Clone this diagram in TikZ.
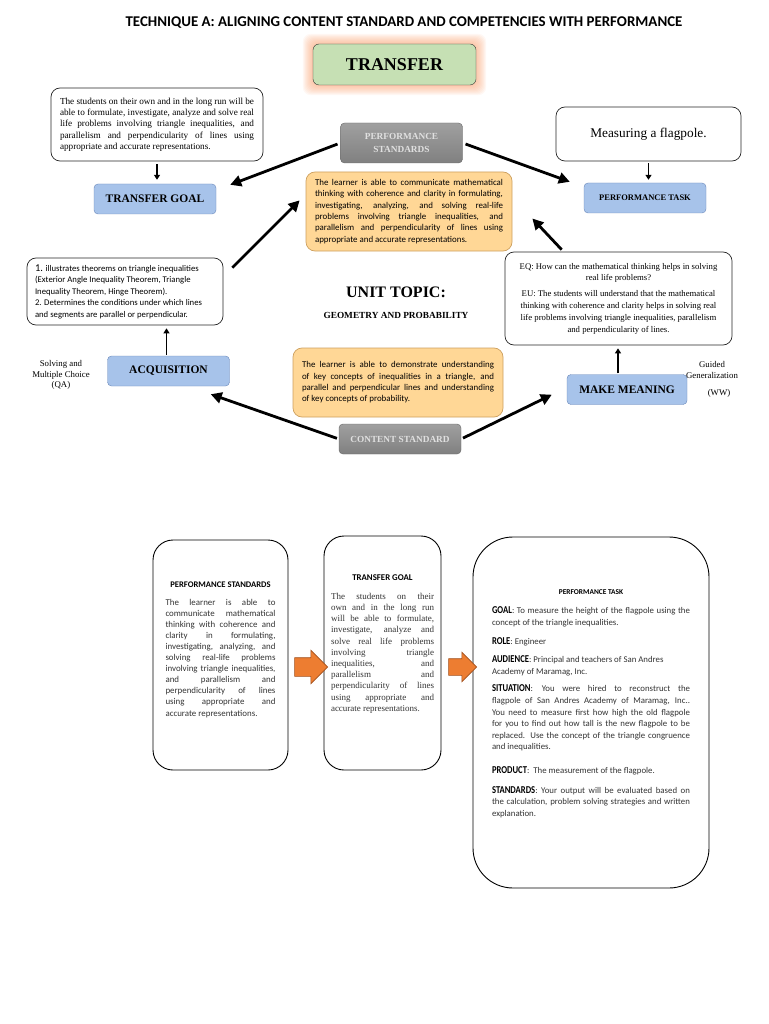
\documentclass[tikz,border=0pt]{standalone}
\usepackage{fontspec}
\setmainfont{Liberation Serif}
\newfontfamily\calfont{Carlito}
\newfontfamily\labfont[FakeStretch=0.82]{Carlito}
\usetikzlibrary{calc,positioning,backgrounds,shapes.arrows,arrows.meta}
\definecolor{stageblue}{RGB}{167,195,234}
\definecolor{stageedge}{RGB}{105,135,185}
\definecolor{stdorange}{RGB}{255,215,150}
\definecolor{stdedge}{RGB}{205,160,95}
\definecolor{transgreen}{RGB}{198,224,180}
\definecolor{glow}{RGB}{250,160,110}
\definecolor{blockorange}{RGB}{237,125,49}
\definecolor{blockedge}{RGB}{160,80,30}
\definecolor{headgray}{RGB}{128,128,128}
\hyphenpenalty=10000
\exhyphenpenalty=10000
\tolerance=10000
\newcommand{\tasklabel}[1]{{\labfont\bfseries\fontsize{10.5}{11.8}\selectfont\color{black}#1}}
\begin{document}
\begin{tikzpicture}[x=1pt,y=-1pt,
    every node/.style={inner sep=0pt},
    txtbox/.style={draw=black!85,fill=white,rounded corners=9pt,line width=0.7pt},
    stage/.style={draw=stageedge,fill=stageblue,rounded corners=4pt,minimum width=122pt,minimum height=30pt,font=\bfseries\fontsize{11.5}{13}\selectfont},
    stdbox/.style={draw=stdedge,fill=stdorange,rounded corners=9pt,line width=0.7pt},
    headbox/.style={draw=black!60,top color=headgray!75,bottom color=headgray,rounded corners=4pt,minimum width=122pt,text=white!88!black,font=\bfseries\fontsize{9.3}{13}\selectfont,align=center},
    bigarrow/.style={-{Triangle[length=11pt,width=11pt]},line width=2.8pt},
    smallarrow/.style={-{Triangle[length=5pt,width=6pt]},line width=1.6pt},
    card/.style={draw=black,line width=0.9pt,fill=white},
    blockarrow/.style={single arrow,draw=blockedge,fill=blockorange,single arrow tip angle=90,inner xsep=0pt,line width=0.6pt}
  ]
  \useasboundingbox (0,0) rectangle (768,1024);
  \node[font=\calfont\bfseries\fontsize{14.9}{17}\selectfont] (title) at (404,23) {TECHNIQUE A: ALIGNING CONTENT STANDARD AND COMPETENCIES WITH PERFORMANCE};
  \node[draw=black!80,fill=transgreen,rounded corners=6pt,minimum width=163pt,minimum height=41pt,font=\bfseries\fontsize{18}{20}\selectfont] (transfer) at (394.5,64.5) {TRANSFER};
  \begin{scope}[on background layer]
    \foreach \g in {1,...,10}
      \fill[glow,opacity=0.08,rounded corners=8pt] ($(transfer.south west)+(-\g,\g)$) rectangle ($(transfer.north east)+(\g,-\g)$);
  \end{scope}

  \node[txtbox,minimum width=212pt,minimum height=73pt,text width=194pt,align=justify,font=\fontsize{9.2}{11.3}\selectfont] (goaltxt) at (157,124.5) {The students on their own and in the long run will be\linebreak able to formulate, investigate, analyze and solve real\linebreak life problems involving triangle inequalities, and\linebreak parallelism and perpendicularity of lines using\linebreak appropriate and accurate representations.};
  \node[stage] (tgoal) at (155,199) {TRANSFER GOAL};
  \node[headbox,minimum height=40pt] (pstd) at (401.5,143) {PERFORMANCE\\STANDARDS};
  \node[stdbox,minimum width=206pt,minimum height=79pt,text width=188pt,align=justify,font=\calfont\fontsize{8.9}{11.4}\selectfont] (pstdtxt) at (409,211.5) {The learner is able to communicate mathematical\linebreak thinking with coherence and clarity in formulating,\linebreak investigating, analyzing, and solving real-life\linebreak problems involving triangle inequalities, and\linebreak parallelism and perpendicularity of lines using\linebreak appropriate and accurate representations.};
  \node[txtbox,minimum width=185pt,minimum height=54pt,font=\fontsize{13.3}{15}\selectfont] (tasktxt) at (648.5,134) {Measuring a flagpole.};
  \node[stage,font=\bfseries\fontsize{8.5}{10}\selectfont] (ptask) at (645,198) {PERFORMANCE TASK};

  \node[txtbox,minimum width=196pt,minimum height=67pt,text width=180pt,align=flush left,font=\calfont\fontsize{8.7}{11.5}\selectfont] (comptxt) at (125,291.5) {{\fontsize{10.5}{11.5}\selectfont 1.} illustrates theorems on triangle inequalities\\(Exterior Angle Inequality Theorem, Triangle\\Inequality Theorem, Hinge Theorem).\\2. Determines the conditions under which lines\\and segments are parallel or perpendicular.};
  \node[stage] (acq) at (168.5,371) {ACQUISITION};
  \node[align=center,font=\fontsize{8.8}{10.5}\selectfont] (qa) at (61,375) {Solving and\\Multiple Choice\\(QA)};
  \node[font=\bfseries\fontsize{16}{18}\selectfont] (unit) at (396,292) {UNIT TOPIC:};
  \node[font=\bfseries\fontsize{9.3}{11}\selectfont] (topic) at (396,315) {GEOMETRY AND PROBABILITY};
  \node[txtbox,minimum width=227pt,minimum height=93pt,text width=215pt,align=flush center,font=\fontsize{8.7}{11.8}\selectfont] (eqtxt) at (618.5,298.5) {EQ: How can the mathematical thinking helps in solving\\real life problems?\\[4pt]EU: The students will understand that the mathematical\\thinking with coherence and clarity helps in solving real\\life problems involving triangle inequalities, parallelism\\and perpendicularity of lines.};
  \node[stage,minimum width=120pt] (meaning) at (627,389.5) {MAKE MEANING};
  \node[align=center,font=\fontsize{8.8}{11}\selectfont] (guided) at (712,370) {Guided\\Generalization};
  \node[font=\fontsize{8.8}{10}\selectfont] (ww) at (719,393) {(WW)};
  \node[stdbox,minimum width=210pt,minimum height=69pt,text width=192pt,align=justify,font=\calfont\fontsize{8.9}{11.4}\selectfont] (cstdtxt) at (398,382.5) {The learner is able to demonstrate understanding\linebreak of key concepts of inequalities in a triangle, and\linebreak parallel and perpendicular lines and understanding\linebreak of key concepts of probability.};
  \node[headbox,minimum height=30pt] (cstd) at (400,439) {CONTENT STANDARD};

  \coordinate (acqtop) at ($(acq.north)+(-2,0)$);
  \coordinate (meantop) at ($(meaning.north)+(-9,0)$);
  \draw[smallarrow,shorten <=3pt,shorten >=4pt] (goaltxt.south) -- (goaltxt.south |- tgoal.north);
  \draw[smallarrow,shorten <=2pt,shorten >=3pt] (tasktxt.south) -- (tasktxt.south |- ptask.north);
  \draw[bigarrow,shorten <=3pt] (pstd.west) -- ($(tgoal.north east)+(14,1)$);
  \draw[bigarrow,shorten <=3pt] (pstd.east) -- ($(ptask.north west)+(-14,-1)$);
  \draw[bigarrow] ($(comptxt.north east)+(9,10)$) -- ($(pstdtxt.south west)+(-6,-51)$);
  \draw[bigarrow] ($(eqtxt.north west)+(57,-2)$) -- ($(pstdtxt.east)+(20,7)$);
  \draw[smallarrow,shorten <=1pt,shorten >=3pt] (acqtop) -- (acqtop |- comptxt.south);
  \draw[smallarrow,shorten <=1pt,shorten >=3pt] (meantop) -- (meantop |- eqtxt.south);
  \draw[bigarrow,shorten <=2pt] (cstd.west) -- ($(acq.south east)+(-19,8)$);
  \draw[bigarrow,shorten <=2pt] (cstd.east) -- ($(meaning.south west)+(-15,-10)$);

  \node[card,rounded corners=20pt,minimum width=135pt,minimum height=230pt] (psbox) at (220.5,655) {};
  \node[below=42pt of psbox.north,font=\calfont\bfseries\fontsize{8.6}{10}\selectfont] (pstitle) {PERFORMANCE STANDARDS};
  \node[below=11pt of pstitle,text width=110pt,align=justify,font=\calfont\fontsize{8.9}{11.1}\selectfont,text=black!80] (pstext) {The learner is able to\linebreak communicate mathematical\linebreak thinking with coherence and\linebreak clarity in formulating,\linebreak investigating, analyzing, and\linebreak solving real-life problems\linebreak involving triangle inequalities,\linebreak and parallelism and\linebreak perpendicularity of lines\linebreak using appropriate and\linebreak accurate representations.};
  \node[card,rounded corners=20pt,minimum width=117pt,minimum height=234pt] (tgbox) at (382.5,653) {};
  \node[below=39pt of tgbox.north,font=\calfont\bfseries\fontsize{8.8}{10}\selectfont] (tgtitle) {TRANSFER GOAL};
  \node[below=12pt of tgtitle,text width=103pt,align=justify,font=\fontsize{9}{11.2}\selectfont,text=black!80] (tgtext) {The students on their\linebreak own and in the long run\linebreak will be able to formulate,\linebreak investigate, analyze and\linebreak solve real life problems\linebreak involving triangle\linebreak inequalities, and\linebreak parallelism and\linebreak perpendicularity of lines\linebreak using appropriate and\linebreak accurate representations.};
  \node[card,rounded corners=40pt,minimum width=236pt,minimum height=351pt] (ptbox) at (591,712.5) {};
  \node[below=53pt of ptbox.north,font=\calfont\bfseries\fontsize{7.4}{9}\selectfont] (pttitle) {PERFORMANCE TASK};
  \node[below=12pt of pttitle,text width=198pt,align=justify,font=\calfont\fontsize{8.8}{11.6}\selectfont,text=black!80] (pttext) {%
    \tasklabel{GOAL}: To measure the height of the flagpole using the\linebreak concept of the triangle inequalities.\par\vspace{7pt}
    \tasklabel{ROLE}: Engineer\par\vspace{7pt}
    \tasklabel{AUDIENCE}: Principal and teachers of San Andres\\Academy of Maramag, Inc.\par\vspace{6pt}
    \tasklabel{SITUATION}:\quad You were hired to reconstruct the\linebreak flagpole of San Andres Academy of Maramag, Inc..\linebreak You need to measure first how high the old flagpole\linebreak for you to find out how tall is the new flagpole to be\linebreak replaced. Use the concept of the triangle congruence\linebreak and inequalities.\par\vspace{12pt}
    \tasklabel{PRODUCT}:\ \ The measurement of the flagpole.\par\vspace{8pt}
    \tasklabel{STANDARDS}: Your output will be evaluated based on\linebreak the calculation, problem solving strategies and written\linebreak explanation.};
  \node[blockarrow,minimum height=33pt,inner ysep=9pt,single arrow head extend=7.5pt] (arrA) at ($(psbox.east)+(18,12)$) {};
  \node[blockarrow,minimum height=28pt,inner ysep=8pt,single arrow head extend=6.5pt] (arrB) at ($(tgbox.east)+(17,14)$) {};
\end{tikzpicture}
\end{document}
